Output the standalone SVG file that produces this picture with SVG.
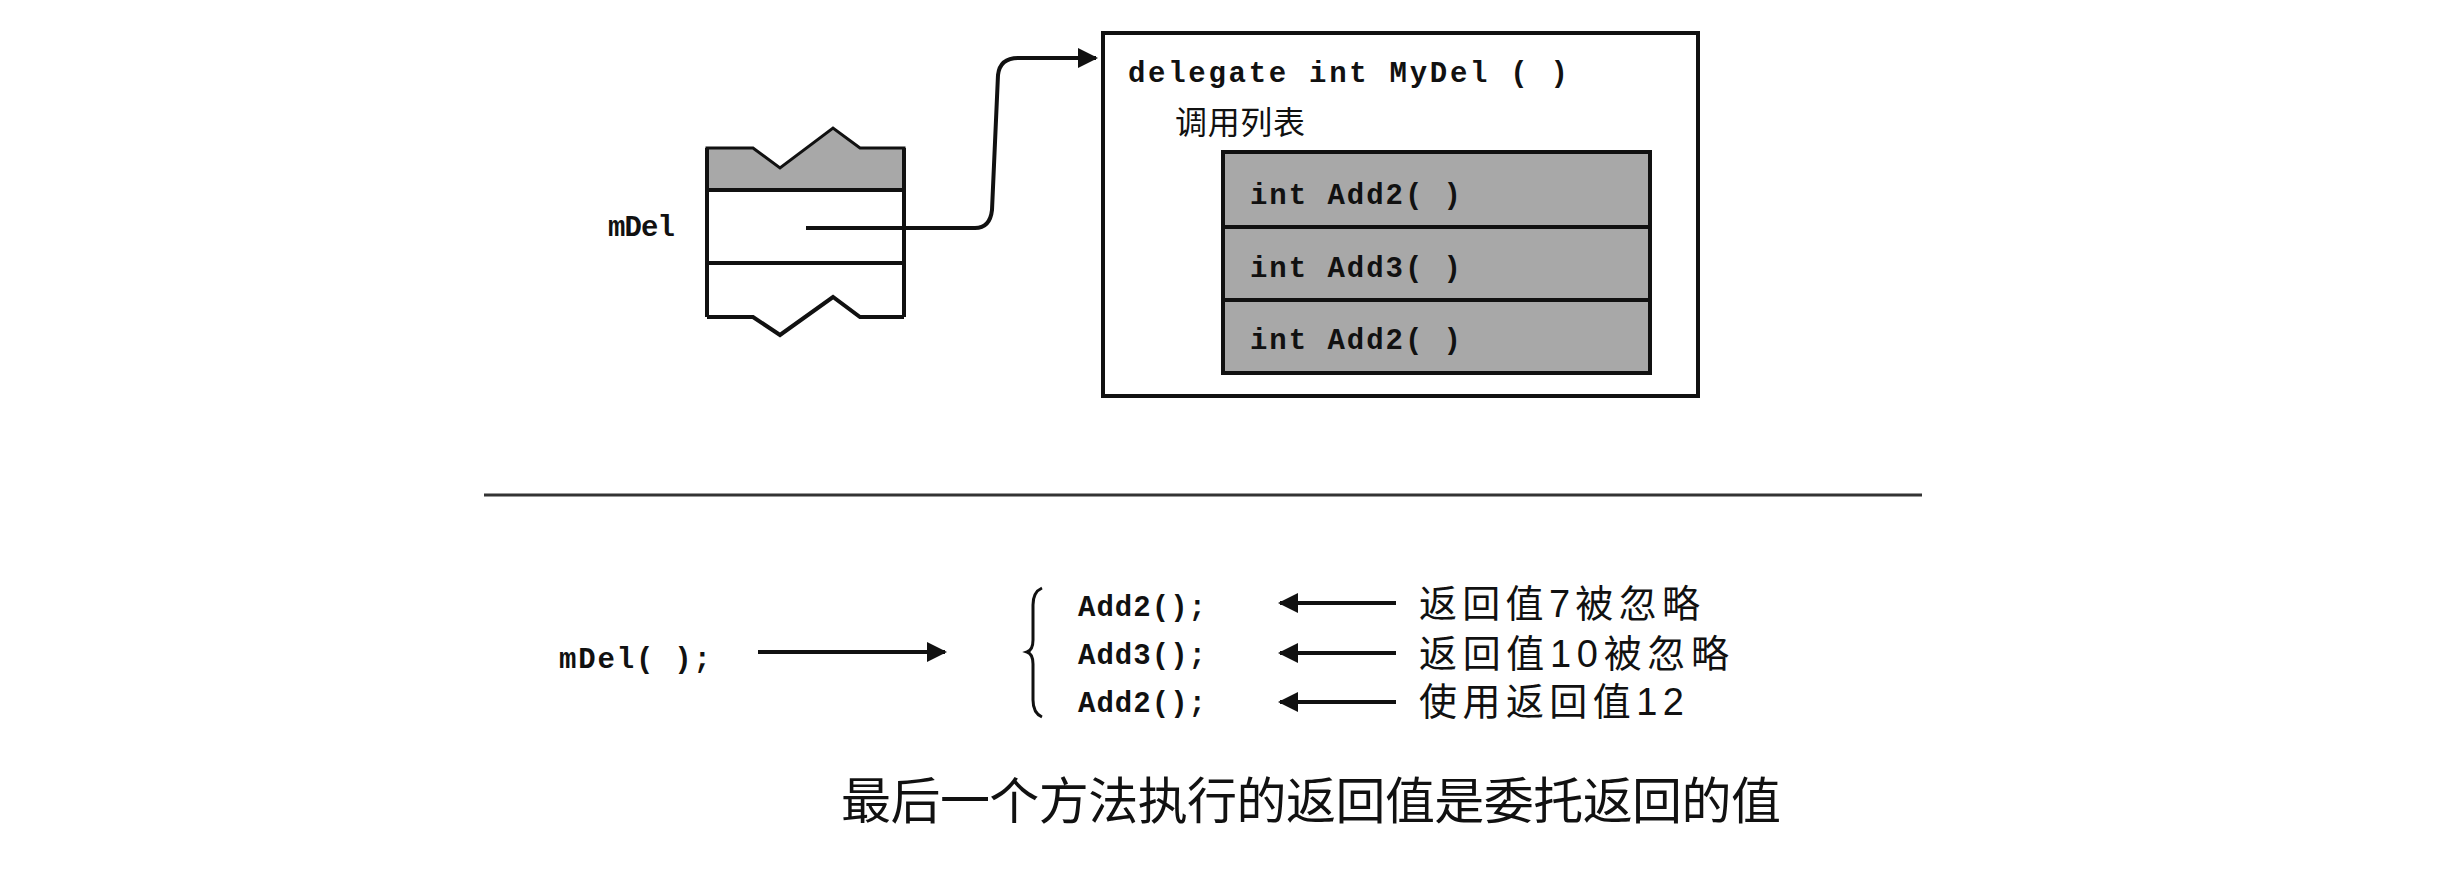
<svg xmlns="http://www.w3.org/2000/svg" width="2450" height="872" viewBox="0 0 2450 872">
<style>
.m{font-family:"Liberation Mono","DejaVu Sans Mono",monospace;font-weight:bold;font-size:29px;fill:#111}
.c{font-family:"Liberation Sans","Noto Sans CJK SC",sans-serif;font-size:38px;fill:#111}
.ln{stroke:#111;stroke-width:4;fill:none}
</style>
<defs>
<marker id="ah" viewBox="0 0 10 10" refX="9" refY="5" markerWidth="5" markerHeight="5" orient="auto" markerUnits="strokeWidth"><path d="M0,0 L10,5 L0,10 z" fill="#111"/></marker>
</defs>
<rect width="2450" height="872" fill="#fff"/>
<g id="memory">
<path d="M707,148 L753,148 L780,168 L833,128 L860,148 L904,148 L904,190 L707,190 Z" fill="#a8a8a8" stroke="#111" stroke-width="3"/>
<rect x="707" y="190" width="197" height="127" fill="#fff" stroke="none"/>
<line x1="707" y1="190" x2="904" y2="190" class="ln" stroke-width="5"/>
<line x1="707" y1="263" x2="904" y2="263" class="ln" stroke-width="5"/>
<line x1="707" y1="148" x2="707" y2="317" class="ln" stroke-width="3"/>
<line x1="904" y1="148" x2="904" y2="317" class="ln" stroke-width="3"/>
<path d="M707,317 L753,317 L780,335 L833,297 L860,317 L904,317" class="ln"/>
<text x="608" y="236" class="m" textLength="67">mDel</text>
</g>
<g id="delegate">
<rect x="1103" y="33" width="595" height="363" fill="#fff" stroke="#111" stroke-width="4"/>
<text x="1128" y="82" class="m" textLength="440">delegate int MyDel ( )</text>
<text x="1175" y="134" class="c" style="font-size:32px" textLength="130">调用列表</text>
</g>
<g id="list">
<rect x="1223" y="152" width="427" height="221" fill="#a8a8a8" stroke="#111" stroke-width="4"/>
<line x1="1223" y1="227" x2="1650" y2="227" class="ln" stroke-width="5"/>
<line x1="1223" y1="300" x2="1650" y2="300" class="ln" stroke-width="5"/>
<text x="1250" y="204" class="m" textLength="211">int Add2( )</text>
<text x="1250" y="277" class="m" textLength="211">int Add3( )</text>
<text x="1250" y="349" class="m" textLength="211">int Add2( )</text>
</g>
<g id="connectors">
<path d="M806,228 L975,228 Q990,228 992,210 L998,75 Q1000,58 1018,58 L1096,58" class="ln" marker-end="url(#ah)"/>
<line x1="484" y1="495" x2="1922" y2="495" stroke="#333" stroke-width="3"/>
<line x1="758" y1="652" x2="945" y2="652" class="ln" marker-end="url(#ah)"/>
<line x1="1396" y1="603" x2="1280" y2="603" class="ln" marker-end="url(#ah)"/>
<line x1="1396" y1="653" x2="1280" y2="653" class="ln" marker-end="url(#ah)"/>
<line x1="1396" y1="702" x2="1280" y2="702" class="ln" marker-end="url(#ah)"/>
<path d="M1042,588 Q1033,592 1033,605 L1033,640 Q1033,650 1027,652 Q1033,654 1033,664 L1033,700 Q1033,713 1042,717" fill="none" stroke="#111" stroke-width="3"/>
</g>
<g id="bottom">
<text x="559" y="668" class="m" textLength="152">mDel( );</text>
<text x="1078" y="616" class="m" textLength="128">Add2();</text>
<text x="1078" y="664" class="m" textLength="128">Add3();</text>
<text x="1078" y="712" class="m" textLength="128">Add2();</text>
<text x="1419" y="617" class="c" textLength="281">返回值7被忽略</text>
<text x="1419" y="667" class="c" textLength="310">返回值10被忽略</text>
<text x="1419" y="715" class="c" textLength="265">使用返回值12</text>
<text x="841" y="819" class="c" style="font-size:50px" textLength="940">最后一个方法执行的返回值是委托返回的值</text>
</g>
</svg>
